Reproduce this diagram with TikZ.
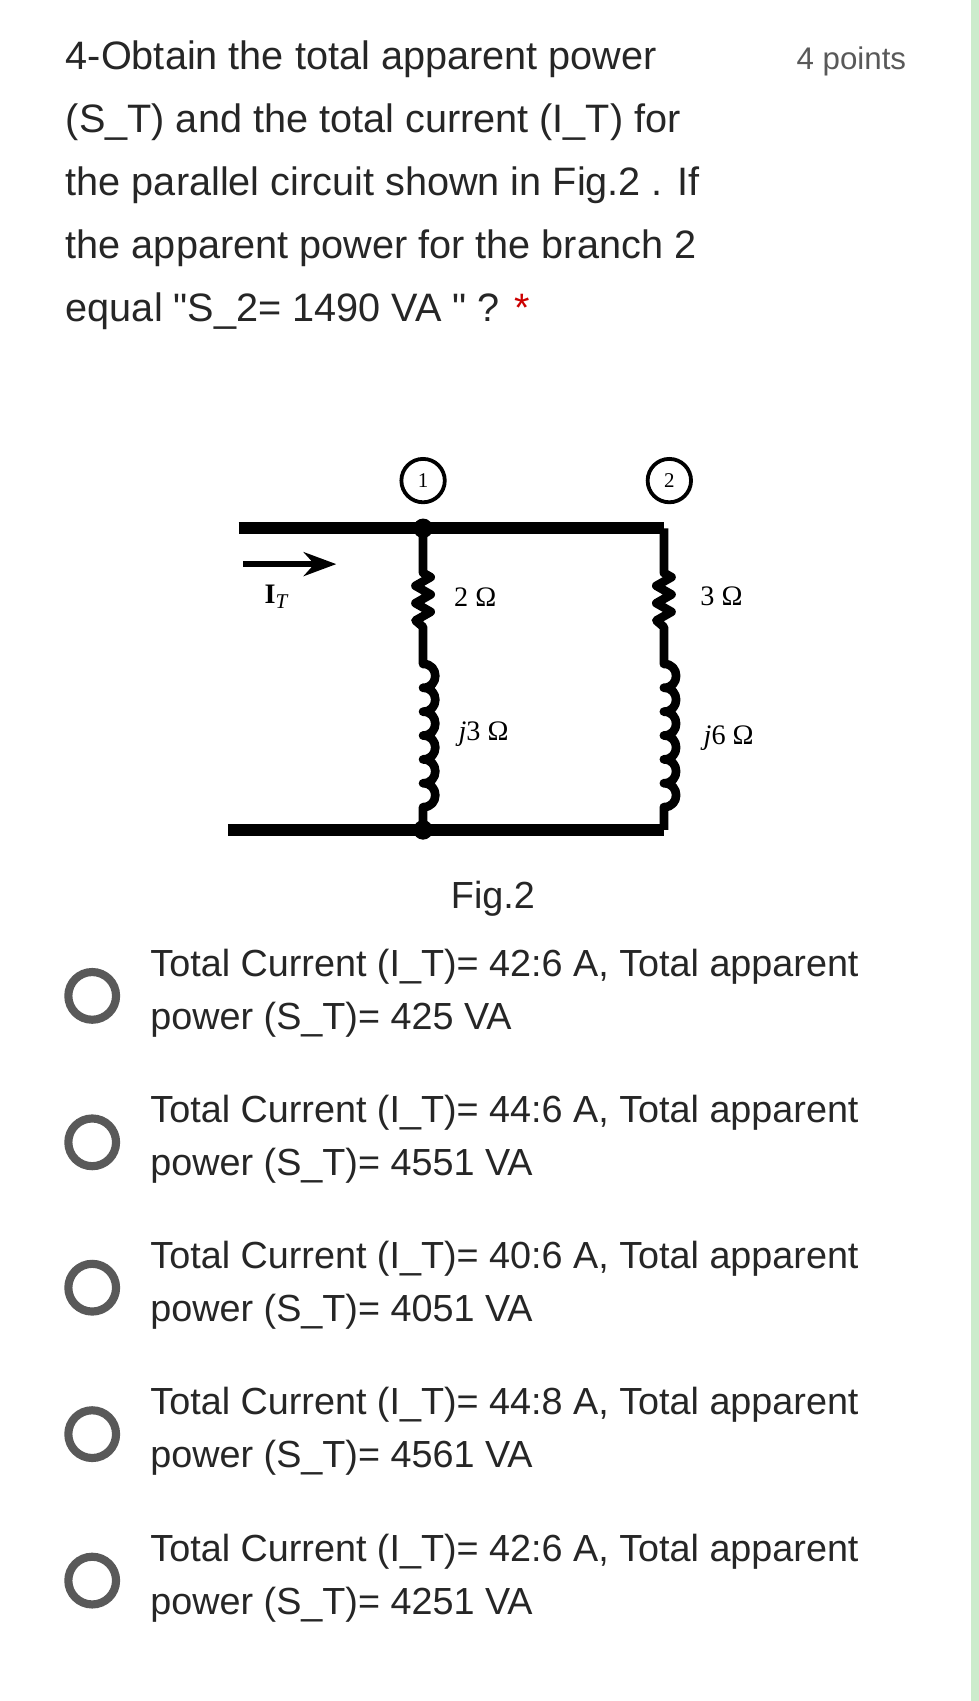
\documentclass[tikz,border=0pt]{standalone}
\usepackage{fontspec}
\setmainfont{Liberation Sans}[Ligatures=TeXOff]
\newfontfamily\serifc{Liberation Serif}
\usetikzlibrary{arrows.meta}
\begin{document}
\begin{tikzpicture}[x=0.1mm,y=-0.1mm,
  qtext/.style={anchor=west,inner sep=0,font=\fontsize{10.4pt}{12pt}\selectfont,text=black!85},
  otext/.style={anchor=west,inner sep=0,font=\fontsize{9.9pt}{11pt}\selectfont,text=black!85},
  radio/.style={circle,draw=black!65,line width=0.75mm,minimum size=4.4mm,inner sep=0},
  wire/.style={line width=1.1mm},
  clab/.style={font=\serifc\fontsize{7.4pt}{8pt}\selectfont,inner sep=0},
  nodec/.style={circle,draw,line width=0.35mm,minimum size=4mm,inner sep=0,font=\serifc\fontsize{5.5pt}{6pt}\selectfont}]
\fill[white] (0,0) rectangle (902,1568);
\fill[green!60!black!20] (895,0) rectangle (902,1568);
\node[qtext] (l1) at (60,55) {4-Obtain the total apparent power};
\node[qtext] (l2) at (60,113) {(S\_T) and the total current (I\_T) for};
\node[qtext] (l3) at (60,171) {the parallel circuit shown in Fig.2 . If};
\node[qtext] (l4) at (60,229) {the apparent power for the branch 2};
\node[qtext] (l5) at (60,287) {equal "S\_2= 1490 VA " ? \textcolor{red!80!black}{*}};
\node[anchor=east,inner sep=0,font=\fontsize{8.2pt}{9pt}\selectfont,text=black!65] (pts) at (836,57) {4 points};
% circuit
\coordinate (ta) at (220,487); \coordinate (n1) at (390,487); \coordinate (tr) at (612,487);
\coordinate (ba) at (210,765); \coordinate (b1) at (390,765); \coordinate (br) at (612,765);
\draw[wire] (ta) -- (n1) -- (tr);
\draw[wire] (ba) -- (b1) -- (br);
\fill (n1) circle (9); \fill (b1) circle (9);
\node[nodec] (c1) at (390,443) {1};
\node[nodec] (c2) at (617,443) {2};
\foreach \x in {390,612}{
  \draw[line width=0.8mm,line join=round] (\x,487) -- (\x,528) -- (\x+7,532) -- (\x-7,540) -- (\x+7,548) -- (\x-7,556) -- (\x+7,564) -- (\x-7,572) -- (\x,578) -- (\x,612)
    \foreach \i in {0,...,5}{ .. controls (\x+15,612+22*\i) and (\x+15,634+22*\i) .. (\x,634+22*\i) }
    -- (\x,765);
}
\draw[line width=0.6mm,-{Stealth[length=3mm,width=2.2mm]}] (224,520) -- (310,520);
\node[clab] (it) at (255,550) {\textbf{I}\raisebox{-0.35ex}{\fontsize{5.5pt}{5.5pt}\selectfont\textit{T}}};
\node[clab,anchor=west] (r1) at (418,550) {2 Ω};
\node[clab,anchor=west] (x1) at (422,677) {\textit{j}3 Ω};
\node[clab,anchor=west] (r2) at (645,550) {3 Ω};
\node[clab,anchor=west] (x2) at (648,680) {\textit{j}6 Ω};
\node[otext] (fig) at (415,828) {Fig.2};
% options
\foreach \y/\a/\b [count=\k] in {891/{Total Current (I\_T)= 42:6 A, Total apparent}/{power (S\_T)= 425 VA},
 1026/{Total Current (I\_T)= 44:6 A, Total apparent}/{power (S\_T)= 4551 VA},
 1160/{Total Current (I\_T)= 40:6 A, Total apparent}/{power (S\_T)= 4051 VA},
 1295/{Total Current (I\_T)= 44:8 A, Total apparent}/{power (S\_T)= 4561 VA},
 1430/{Total Current (I\_T)= 42:6 A, Total apparent}/{power (S\_T)= 4251 VA}}{
  \node[radio] (r\k) at (85,\y+27) {};
  \node[otext] (oa\k) at (138,\y) {\a};
  \node[otext] (ob\k) at (138,\y+49) {\b};
}
\end{tikzpicture}
\end{document}
